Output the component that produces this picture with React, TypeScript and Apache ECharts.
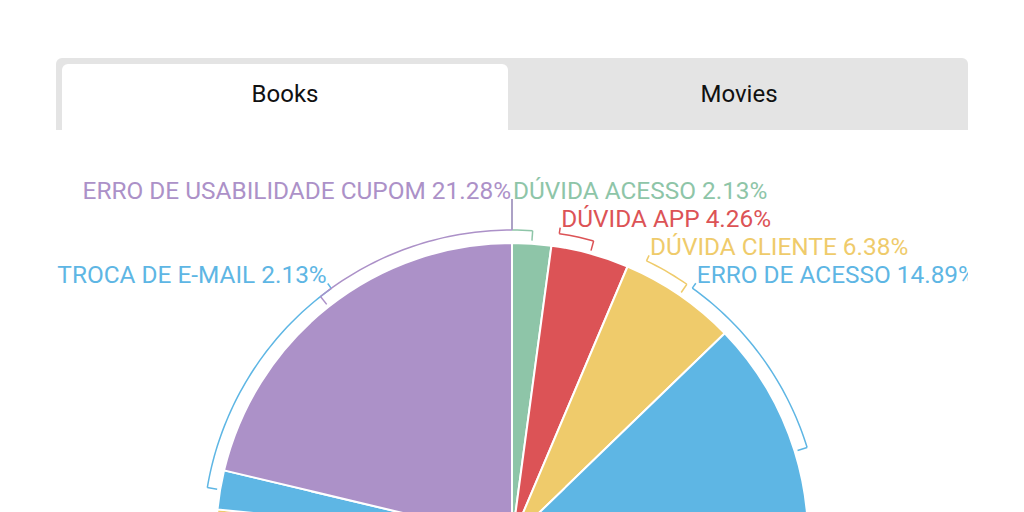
import React, { useEffect, useRef } from "react";
import * as echarts from "echarts";

// ---- data ----
const categories = [
  "DÚVIDA ACESSO",
  "DÚVIDA APP",
  "DÚVIDA CLIENTE",
  "ERRO DE ACESSO",
  "ERRO DE PAGAMENTO",
  "DÚVIDA PEDIDO",
  "ERRO DE CADASTRO",
  "DÚVIDA ENTREGA",
  "TROCA DE E-MAIL",
  "ERRO DE USABILIDADE CUPOM",
];
const values = [1, 2, 3, 7, 8, 7, 5, 3, 1, 10];
const tabs = ["Books", "Movies"];

// ---- style / layout ----
const palette = ["#8EC5A8", "#DC5356", "#EFCB6B", "#5EB6E4", "#AC91C8"];
const labelAngle: (number | null)[] = [0, 8.8, 25.8, 35.7, null, null, null, null, 324.2, 360];
const labelRadius: (number | null)[] = [340, 315, 315, 315, null, null, null, null, 315, 340];
const OX = 56; // chart container left offset on the page
const W = 912;
const H = 512;
const CX = 512 - OX;
const CY = 539;
const R = 296;
const RB = 309;
const TICK_R = 299;
const FONT = "Roboto, 'Noto Sans', sans-serif";
const FS = 24;
const LFS = 24.4;

const total = values.reduce((a, b) => a + b, 0);
const startAngles: number[] = [];
{
  let acc = 0;
  values.forEach((v) => {
    startAngles.push((acc / total) * 360);
    acc += v;
  });
}
const pt = (deg: number, r: number) => {
  const a = (deg * Math.PI) / 180;
  return [CX + r * Math.sin(a), CY - r * Math.cos(a)];
};

export default function App() {
  const ref = useRef<HTMLDivElement>(null);
  useEffect(() => {
    if (!ref.current) return;
    const chart = echarts.init(ref.current, undefined, { renderer: "svg" });
    const color = (i: number) => palette[i % palette.length];
    chart.setOption({
      animation: false,
      graphic: [
        {
          type: "rect",
          shape: { x: 0, y: 58, width: W, height: 72, r: [6, 6, 0, 0] },
          style: { fill: "#E4E4E4" },
          silent: true,
        },
        {
          type: "rect",
          shape: { x: 62 - OX, y: 64, width: 446, height: 66, r: [6, 6, 0, 0] },
          style: { fill: "#FFFFFF" },
          silent: true,
        },
        {
          type: "text",
          x: 285 - OX,
          y: 94,
          style: { text: tabs[0], fill: "#111", fontSize: FS, fontFamily: FONT, align: "center", verticalAlign: "middle" },
        },
        {
          type: "text",
          x: 739 - OX,
          y: 94,
          style: { text: tabs[1], fill: "#111", fontSize: FS, fontFamily: FONT, align: "center", verticalAlign: "middle" },
        },
      ],
      series: [
        {
          type: "pie",
          center: [CX, CY],
          radius: R,
          startAngle: 90,
          clockwise: true,
          silent: true,
          label: { show: false },
          labelLine: { show: false },
          itemStyle: { borderColor: "#fff", borderWidth: 2 },
          data: values.map((v, i) => ({ name: categories[i], value: v, itemStyle: { color: color(i) } })),
        },
        {
          type: "custom",
          coordinateSystem: "none",
          silent: true,
          z: 5,
          data: values.map((v, i) => [i, v]),
          renderItem: (params: any) => {
            const i = params.dataIndex;
            const c = color(i);
            const mid = startAngles[i] + ((values[i] / total) * 360) / 2;
            const la = labelAngle[i] ?? mid;
            const lr = labelRadius[i] ?? 315;
            const steps = Math.max(2, Math.ceil(Math.abs(la - mid)));
            const pts: number[][] = [];
            for (let s = 0; s <= steps; s++) pts.push(pt(mid + ((la - mid) * s) / steps, RB));
            const t1 = pt(mid, RB);
            const t2 = pt(mid, TICK_R);
            const l1 = pt(la, RB);
            const l2 = pt(la, lr);
            const right = !(la > 180);
            const pct = ((values[i] / total) * 100).toFixed(2);
            const children: any[] = [
              { type: "polyline", shape: { points: pts }, style: { stroke: c, fill: null, lineWidth: 1.5 } },
              { type: "line", shape: { x1: t1[0], y1: t1[1], x2: t2[0], y2: t2[1] }, style: { stroke: c, lineWidth: 1.5 } },
              { type: "line", shape: { x1: l1[0], y1: l1[1], x2: l2[0], y2: l2[1] }, style: { stroke: c, lineWidth: 1.5 } },
            ];
            if (l2[1] < H - 20) {
              children.push({
                type: "text",
                x: l2[0] + (right ? 1 : -1),
                y: l2[1] - 9,
                style: {
                  text: `${categories[i]} ${pct}%`,
                  fill: c,
                  fontSize: LFS,
                  fontFamily: FONT,
                  align: right ? "left" : "right",
                  verticalAlign: "middle",
                },
              });
            }
            return { type: "group", children };
          },
        },
      ],
    });
    return () => chart.dispose();
  }, []);
  return (
    <div
      ref={ref}
      style={{ position: "fixed", left: OX, top: 0, width: W, height: H, background: "#fff", overflow: "hidden" }}
    />
  );
}
